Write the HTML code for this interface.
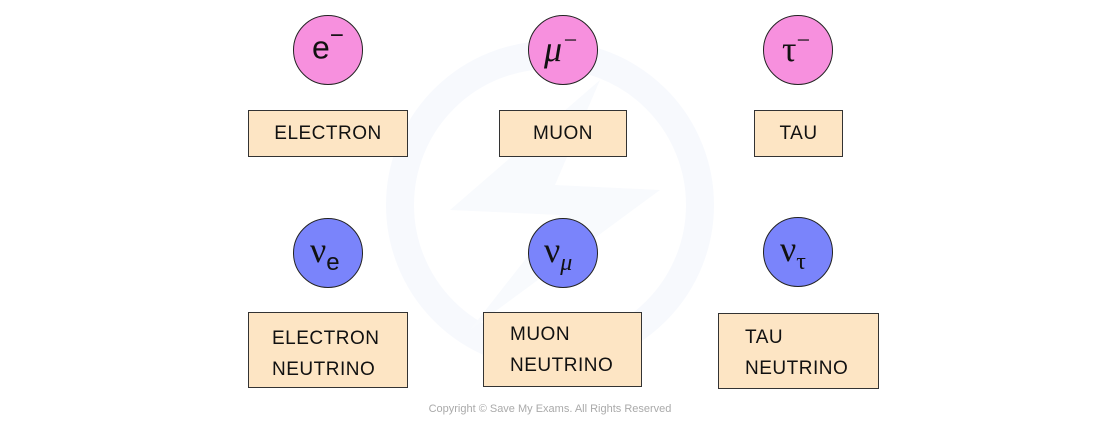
<!DOCTYPE html>
<html><head><style>
body{margin:0;width:1100px;height:427px;background:#fff;overflow:hidden;position:relative;font-family:"Liberation Sans",sans-serif}
.c{position:absolute;width:70px;height:70px;border:1.5px solid #222;border-radius:50%;box-sizing:border-box}
.p{background:#f790de}.b{background:#7a84fb}
.c span{position:absolute;font-family:"Liberation Serif",serif;font-size:36px;color:#111}
.r{position:absolute;background:#fde5c4;border:1.5px solid #333;box-sizing:border-box;font-size:19px;color:#111;letter-spacing:0.5px}
</style></head><body>
<svg width="1100" height="427" style="position:absolute;left:0;top:0">
<circle cx="550" cy="205" r="150" fill="none" stroke="#f7f9fd" stroke-width="28"/>
<polygon points="600,80 450,210 560,215 470,330 660,190 555,185" fill="#f8fafd"/>
</svg>
<div class="c p" style="left:293px;top:15px"><span style="left:18px;top:10px;font-family:'Liberation Sans',sans-serif;font-size:32px">e<sup style="font-size:24px;position:relative;top:-4px">−</sup></span></div>
<div class="c p" style="left:528px;top:15px"><span style="left:15px;top:12px;font-style:italic">μ<sup style="font-size:24px">−</sup></span></div>
<div class="c p" style="left:763px;top:15px"><span style="left:18px;top:12px">τ<sup style="font-size:24px">−</sup></span></div>
<div class="c b" style="left:293px;top:218px"><span style="left:16px;top:10px">ν<sub style="font-family:'Liberation Sans',sans-serif;font-size:24px">e</sub></span></div>
<div class="c b" style="left:528px;top:218px"><span style="left:15px;top:10px">ν<sub style="font-size:24px;font-style:italic">μ</sub></span></div>
<div class="c b" style="left:763px;top:217px"><span style="left:16px;top:10px">ν<sub style="font-size:24px">τ</sub></span></div>
<div class="r" style="left:248px;top:110px;width:160px;height:47px;text-align:center;line-height:45px">ELECTRON</div>
<div class="r" style="left:499px;top:110px;width:128px;height:47px;text-align:center;line-height:45px">MUON</div>
<div class="r" style="left:754px;top:110px;width:89px;height:47px;text-align:center;line-height:45px">TAU</div>
<div class="r" style="left:248px;top:312px;width:160px;height:76px;padding:10px 0 0 23px;line-height:31px">ELECTRON<br>NEUTRINO</div>
<div class="r" style="left:483px;top:312px;width:159px;height:75px;padding:6px 0 0 26px;line-height:31px">MUON<br>NEUTRINO</div>
<div class="r" style="left:718px;top:313px;width:161px;height:76px;padding:8px 0 0 26px;line-height:31px">TAU<br>NEUTRINO</div>
<div style="position:absolute;left:0;width:1100px;top:403px;text-align:center;font-size:11px;color:#aaa">Copyright © Save My Exams. All Rights Reserved</div>
</body></html>
